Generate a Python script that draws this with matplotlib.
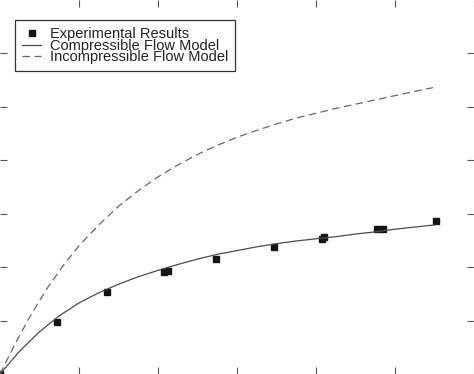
import matplotlib
matplotlib.use("Agg")
import matplotlib.pyplot as plt

# experimental points
exp_x = [0.0, 0.72, 1.36, 2.08, 2.13, 2.74, 3.47, 4.07, 4.10, 4.77, 4.85, 5.52]
exp_y = [0.0, 0.98, 1.53, 1.91, 1.93, 2.16, 2.38, 2.53, 2.57, 2.71, 2.71, 2.86]

# compressible flow model
comp_x = [0, 0.25, 0.5, 0.75, 1.0, 1.25, 1.5, 1.75, 2.0, 2.25, 2.5, 2.75,
          3.0, 3.25, 3.5, 3.75, 4.0, 4.25, 4.5, 4.75, 5.0, 5.25, 5.5]
comp_y = [0, 0.43, 0.79, 1.09, 1.33, 1.52, 1.68, 1.82, 1.94, 2.05, 2.15, 2.24,
          2.31, 2.38, 2.44, 2.49, 2.53, 2.57, 2.62, 2.66, 2.71, 2.75, 2.79]

# incompressible flow model
inc_x = [0, 0.2, 0.4, 0.6, 0.8, 1.0, 1.25, 1.5, 1.75, 2.0, 2.25, 2.5, 2.75,
         3.0, 3.25, 3.5, 3.75, 4.0, 4.25, 4.5, 4.75, 5.0, 5.25, 5.48]
inc_y = [0, 0.59, 1.13, 1.61, 2.03, 2.40, 2.79, 3.14, 3.43, 3.69, 3.91, 4.11, 4.28,
         4.43, 4.56, 4.68, 4.79, 4.88, 4.97, 5.05, 5.13, 5.21, 5.29, 5.36]

plt.rcParams["font.family"] = ["Liberation Sans", "DejaVu Sans"]

fig = plt.figure(figsize=(4.74, 3.74), dpi=100)
ax = fig.add_axes([0, 0, 1, 1])

ax.plot(exp_x, exp_y, "s", color="#151515", markersize=4.5, label="Experimental Results")
ax.plot(comp_x, comp_y, "-", color="#4a4a4a", linewidth=0.9, label="Compressible Flow Model")
ax.plot(inc_x, inc_y, "--", color="#666666", linewidth=0.9, dashes=(6, 3.6),
        label="Incompressible Flow Model")

ax.set_xlim(0, 6)
ax.set_ylim(0, 7)
ax.set_xticks([1, 2, 3, 4, 5, 6])
ax.set_yticks([1, 2, 3, 4, 5, 6])
ax.tick_params(direction="in", length=5, width=0.8, color="#555555",
               top=True, right=True, labelbottom=False, labelleft=False)
for s in ax.spines.values():
    s.set_visible(False)

leg = ax.legend(loc="upper left", bbox_to_anchor=(0.032, 0.947), fontsize=10.5,
                handlelength=1.3, handletextpad=0.6, labelspacing=-0.15,
                borderpad=0.48, borderaxespad=0, fancybox=False, frameon=True)
leg.get_frame().set_edgecolor("black")
leg.get_frame().set_linewidth(0.9)
for t in leg.get_texts():
    t.set_color("#222222")

fig.savefig("out.png", dpi=100)
